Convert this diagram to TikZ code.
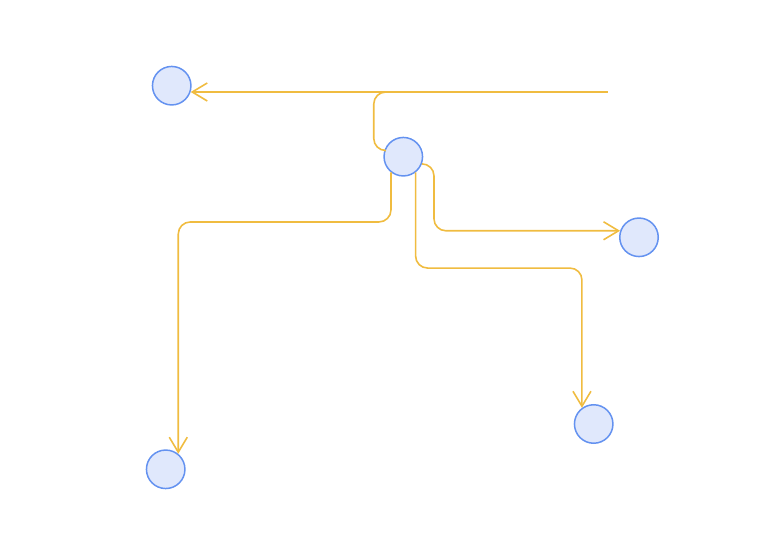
\documentclass[tikz,border=0pt]{standalone}
\usetikzlibrary{arrows.meta}
\definecolor{edgecol}{RGB}{240,188,64}
\definecolor{nodefill}{RGB}{224,232,252}
\definecolor{nodedraw}{RGB}{100,146,240}
\begin{document}
\begin{tikzpicture}[x=1pt,y=-1pt,
  vertex/.style={circle,draw=nodedraw,fill=nodefill,line width=1.5pt,minimum size=38.5pt,inner sep=0pt},
  edge/.style={draw=edgecol,line width=1.6pt,rounded corners=12pt},
  tip/.style={-{Straight Barb[length=15pt,width=18pt]}}]
\useasboundingbox (0,0) rectangle (780,548);
\node[vertex] (n1) at (171.7,85.7) {};
\node[vertex] (c) at (403.3,156.7) {};
\node[vertex] (n3) at (639,237.3) {};
\node[vertex] (n4) at (593.7,424) {};
\node[vertex] (n5) at (165.7,469.3) {};
\coordinate (top) at (607.5,92);
\draw[edge] (c.162) -- ++(-10.5,0) |- (top);
\draw[edge,tip] (top) -- (top -| n1.-18);
\draw[edge,tip] (c.232) -- ++(0,49.5) -| (n5.51);
\draw[edge,tip] (c.-21) -- ++(12,0) |- (n3.161);
\draw[edge,tip] (c.-52) -- ++(0,95.6) -| (n4.126);
\end{tikzpicture}
\end{document}
